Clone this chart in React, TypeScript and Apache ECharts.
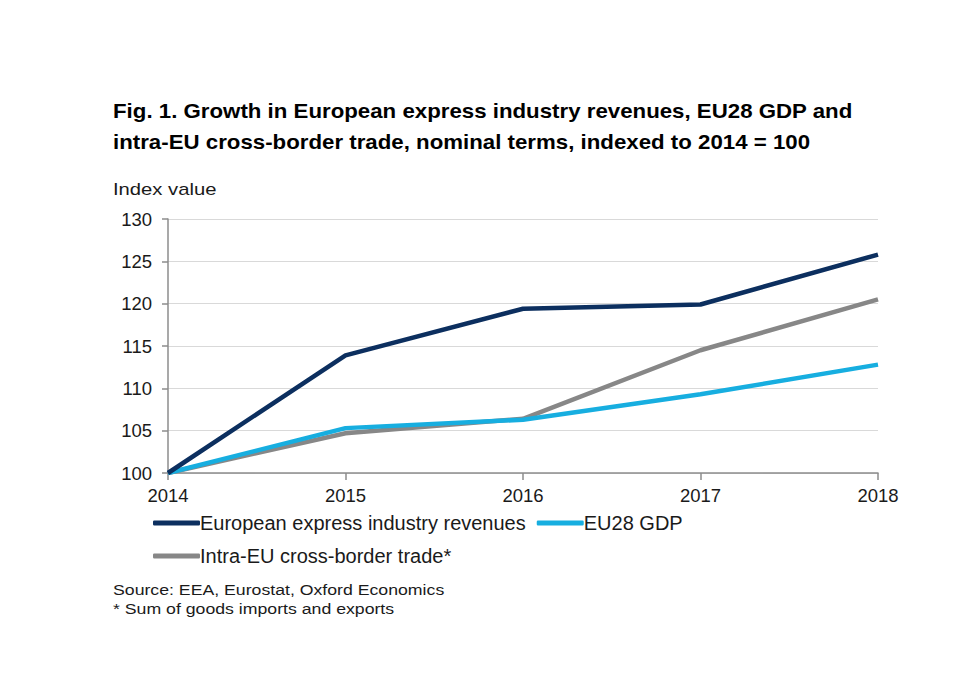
import React, { useEffect, useRef } from "react";
import * as echarts from "echarts";

const years = ["2014", "2015", "2016", "2017", "2018"];
const expressRevenues = [100, 113.9, 119.4, 119.9, 125.8];
const eu28Gdp = [100, 105.3, 106.3, 109.3, 112.8];
const intraEuTrade = [100, 104.7, 106.4, 114.5, 120.5];
const seriesNames = [
  "European express industry revenues",
  "EU28 GDP",
  "Intra-EU cross-border trade*",
];
const yTicks = { min: 100, max: 130, interval: 5 };

const FONT = "Liberation Sans, Arial, sans-serif";
const NAVY = "#0c2f5f";
const CYAN = "#17aee0";
const GRAY = "#878787";

export default function App() {
  const ref = useRef<HTMLDivElement>(null);
  useEffect(() => {
    const chart = echarts.init(ref.current!, undefined, { renderer: "svg" });
    const lineSeries = (name: string, data: number[], color: string, z: number) => ({
      name,
      type: "line",
      data,
      symbol: "none",
      z,
      lineStyle: { color, width: 4.5 },
      itemStyle: { color },
    });
    const legendBase = {
      orient: "horizontal",
      icon: "roundRect",
      itemWidth: 47,
      itemHeight: 5,
      itemGap: 11,
      padding: 0,
      textStyle: { color: "#1a1a1a", fontSize: 20, fontFamily: FONT, padding: [0, 0, 0, -5] },
    };
    chart.setOption({
      animation: false,
      backgroundColor: "#ffffff",
      textStyle: { fontFamily: FONT },
      grid: { left: 168, right: 102, top: 219, bottom: 220 },
      xAxis: {
        type: "category",
        data: years,
        boundaryGap: false,
        axisLine: { lineStyle: { color: "#8c8c8c", width: 1.5 } },
        axisTick: { show: true, length: 7, lineStyle: { color: "#8c8c8c", width: 1.5 } },
        axisLabel: { color: "#1a1a1a", fontSize: 18.5, margin: 13, fontFamily: FONT },
        splitLine: { show: false },
      },
      yAxis: {
        type: "value",
        min: yTicks.min,
        max: yTicks.max,
        interval: yTicks.interval,
        axisLine: { show: true, lineStyle: { color: "#8c8c8c", width: 1.5 } },
        axisTick: { show: true, length: 6, lineStyle: { color: "#8c8c8c", width: 1.5 } },
        axisLabel: { color: "#1a1a1a", fontSize: 18.5, margin: 16, fontFamily: FONT },
        splitLine: { show: true, lineStyle: { color: "#d9d9d9", width: 1 } },
      },
      legend: [
        { ...legendBase, data: [seriesNames[0], seriesNames[1]], left: 153, top: 513 },
        { ...legendBase, data: [seriesNames[2]], left: 153, top: 546 },
      ],
      graphic: [
        {
          type: "text",
          x: 113,
          y: 96,
          scaleX: 1.142,
          style: {
            text: "Fig. 1. Growth in European express industry revenues, EU28 GDP and\nintra-EU cross-border trade, nominal terms, indexed to 2014 = 100",
            font: `bold 19.5px ${FONT}`,
            fill: "#000000",
            lineHeight: 31,
          },
        },
        {
          type: "text",
          x: 113,
          y: 181,
          scaleX: 1.19,
          style: { text: "Index value", font: `17px ${FONT}`, fill: "#1a1a1a" },
        },
        {
          type: "text",
          x: 113,
          y: 580,
          scaleX: 1.18,
          style: {
            text: "Source: EEA, Eurostat, Oxford Economics\n* Sum of goods imports and exports",
            font: `15px ${FONT}`,
            fill: "#1a1a1a",
            lineHeight: 19,
          },
        },
      ],
      series: [
        lineSeries(seriesNames[0], expressRevenues, NAVY, 3),
        lineSeries(seriesNames[1], eu28Gdp, CYAN, 2),
        lineSeries(seriesNames[2], intraEuTrade, GRAY, 1),
      ],
    });
    return () => chart.dispose();
  }, []);
  return (
    <div
      ref={ref}
      style={{ position: "fixed", left: 0, top: 0, width: 980, height: 693, background: "#fff" }}
    />
  );
}
